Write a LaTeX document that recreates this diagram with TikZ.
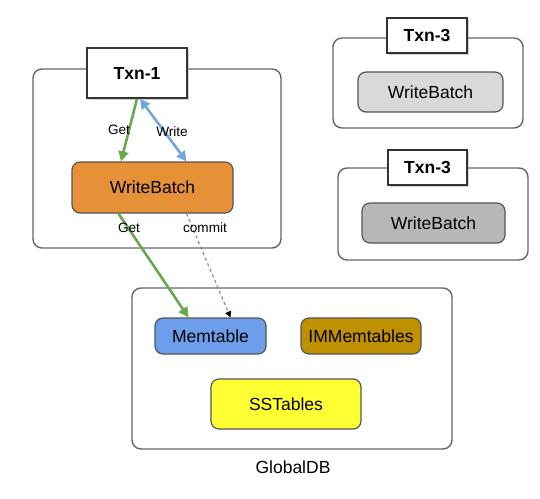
\documentclass[tikz,border=0pt]{standalone}
\usepackage{fontspec}
\setmainfont{Liberation Sans}
\usetikzlibrary{arrows.meta,shadows}
\definecolor{cborder}{HTML}{666666}
\definecolor{iborder}{HTML}{555555}
\definecolor{orangefill}{HTML}{E69138}
\definecolor{memblue}{HTML}{6D9EEB}
\definecolor{immgold}{HTML}{BF9000}
\definecolor{sstyellow}{HTML}{FFFF33}
\definecolor{graylight}{HTML}{D9D9D9}
\definecolor{graydark}{HTML}{B7B7B7}
\definecolor{agreen}{HTML}{6AA84F}
\definecolor{ablue}{HTML}{6FA8DC}
\tikzset{
  container/.style={draw=cborder, line width=1.4pt, rounded corners=9pt, fill=white, inner sep=0pt},
  txnlabel/.style={draw=black!80, line width=1.6pt, fill=white, inner sep=0pt, font=\fontsize{17.5}{20}\selectfont\bfseries, drop shadow={shadow xshift=2pt, shadow yshift=-2pt, fill=black!35}},
  inbox/.style={draw=iborder, line width=1.2pt, rounded corners=8pt, inner sep=0pt, font=\fontsize{17.5}{20}\selectfont},
  lbl/.style={font=\fontsize{13.6}{16}\selectfont, inner sep=0pt},
  greenarrow/.style={draw=agreen, line width=2.6pt, -{Triangle[length=10pt,width=10pt]}},
  bluearrow/.style={draw=ablue, line width=2.6pt, {Triangle[length=10pt,width=10pt]}-{Triangle[length=10pt,width=10pt]}},
  commitarrow/.style={draw=black!45, line width=1.2pt, dash pattern=on 3pt off 3pt, -{Triangle[length=6pt,width=6pt,color=black,fill=black]}},
}
\begin{document}
\begin{tikzpicture}[x=1pt,y=-1pt]
\useasboundingbox (0,0) rectangle (540,498);
% Txn-1
\node[container, minimum width=248pt, minimum height=179pt] (c1) at (157,158.5) {};
\node[txnlabel, minimum width=100pt, minimum height=50pt] (t1) at (137,73) {Txn-1};
\node[inbox, fill=orangefill, minimum width=161pt, minimum height=51pt] (wb1) at (152.5,187.5) {WriteBatch};
% Txn-3 top
\node[container, minimum width=190pt, minimum height=90pt] (c2) at (428,83) {};
\node[txnlabel, minimum width=80pt, minimum height=35pt] (t2) at (427,35.5) {Txn-3};
\node[inbox, fill=graylight, minimum width=145pt, minimum height=40pt] (wb2) at (430.5,92) {WriteBatch};
% Txn-3 bottom
\node[container, minimum width=190pt, minimum height=92pt] (c3) at (433,214) {};
\node[txnlabel, minimum width=79pt, minimum height=35pt] (t3) at (427.5,167.5) {Txn-3};
\node[inbox, fill=graydark, minimum width=143pt, minimum height=40pt] (wb3) at (433.5,223) {WriteBatch};
% GlobalDB
\node[container, minimum width=320pt, minimum height=161pt] (db) at (292,368.5) {};
\node[inbox, fill=memblue, minimum width=111pt, minimum height=36pt] (mem) at (210.5,336) {Memtable};
\node[inbox, fill=immgold, minimum width=120pt, minimum height=36pt] (imm) at (361,336) {IMMemtables};
\node[inbox, fill=sstyellow, minimum width=150pt, minimum height=50pt] (sst) at (286,404) {SSTables};
\node[font=\fontsize{17.5}{20}\selectfont, inner sep=0pt] (dblabel) at (293,467) {GlobalDB};
% connectors
\draw[greenarrow] (t1.south) -- ([xshift=-31.5pt]wb1.north);
\draw[bluearrow] ([xshift=3pt]t1.south) -- ([xshift=34pt]wb1.north);
\draw[greenarrow] ([xshift=-34pt]wb1.south) -- ([xshift=-22pt]mem.north);
\draw[commitarrow] ([xshift=34pt]wb1.south) -- ([xshift=20pt]mem.north);
% labels
\node[lbl] (lget1) at (119,130) {Get};
\node[lbl] (lwrite) at (172,132) {Write};
\node[lbl] (lget2) at (129,228) {Get};
\node[lbl] (lcommit) at (205,228) {commit};
\end{tikzpicture}
\end{document}
